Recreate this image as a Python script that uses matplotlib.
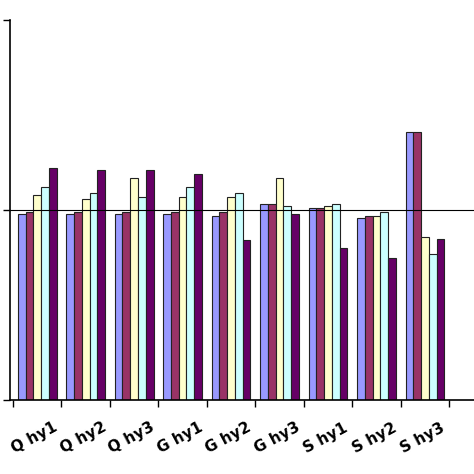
import matplotlib.pyplot as plt
import numpy as np

groups = ["Q hy1", "Q hy2", "Q hy3", "G hy1", "G hy2", "G hy3", "S hy1", "S hy2", "S hy3"]
s1 = [0.98, 0.98, 0.98, 0.98, 0.97, 1.03, 1.01, 0.96, 1.41]
s2 = [0.99, 0.99, 0.99, 0.99, 0.99, 1.03, 1.01, 0.97, 1.41]
s3 = [1.08, 1.06, 1.17, 1.07, 1.07, 1.17, 1.02, 0.97, 0.86]
s4 = [1.12, 1.09, 1.07, 1.12, 1.09, 1.02, 1.03, 0.99, 0.77]
s5 = [1.22, 1.21, 1.21, 1.19, 0.84, 0.98, 0.80, 0.75, 0.85]
series = [s1, s2, s3, s4, s5]
colors = ["#9999FF", "#993366", "#FFFFCC", "#CCFFFF", "#660066"]

fig = plt.figure(figsize=(4.74, 4.74), dpi=100)
ax = fig.add_axes([10/474, 74/474, 1 - 10/474, 380/474])
x = np.arange(len(groups))
w = 0.16
for i, (vals, col) in enumerate(zip(series, colors)):
    ax.bar(x + (i - 2) * w, vals, w, color=col, edgecolor="#222222", linewidth=0.8)

ax.set_ylim(0, 2)
ax.set_xlim(-0.56, 9.01)
ax.axhline(1, color="black", linewidth=0.8)
ax.set_yticks([0, 1, 2])
ax.set_yticklabels([])
ax.tick_params(axis="y", direction="out", length=5, width=1)
ax.set_xticks(np.arange(-0.5, 9, 1))
ax.set_xticklabels([])
ax.tick_params(axis="x", direction="out", length=5, width=1)
for xi, g in zip(x, groups):
    ax.text(xi - 0.05, -0.2, g, rotation=28, ha="center", va="center", fontsize=11,
            fontweight="bold", transform=ax.transData, clip_on=False)
for s in ["top", "right"]:
    ax.spines[s].set_visible(False)
ax.spines["left"].set_linewidth(1.2)
ax.spines["bottom"].set_linewidth(1.2)
fig.savefig("out.png", dpi=100)
